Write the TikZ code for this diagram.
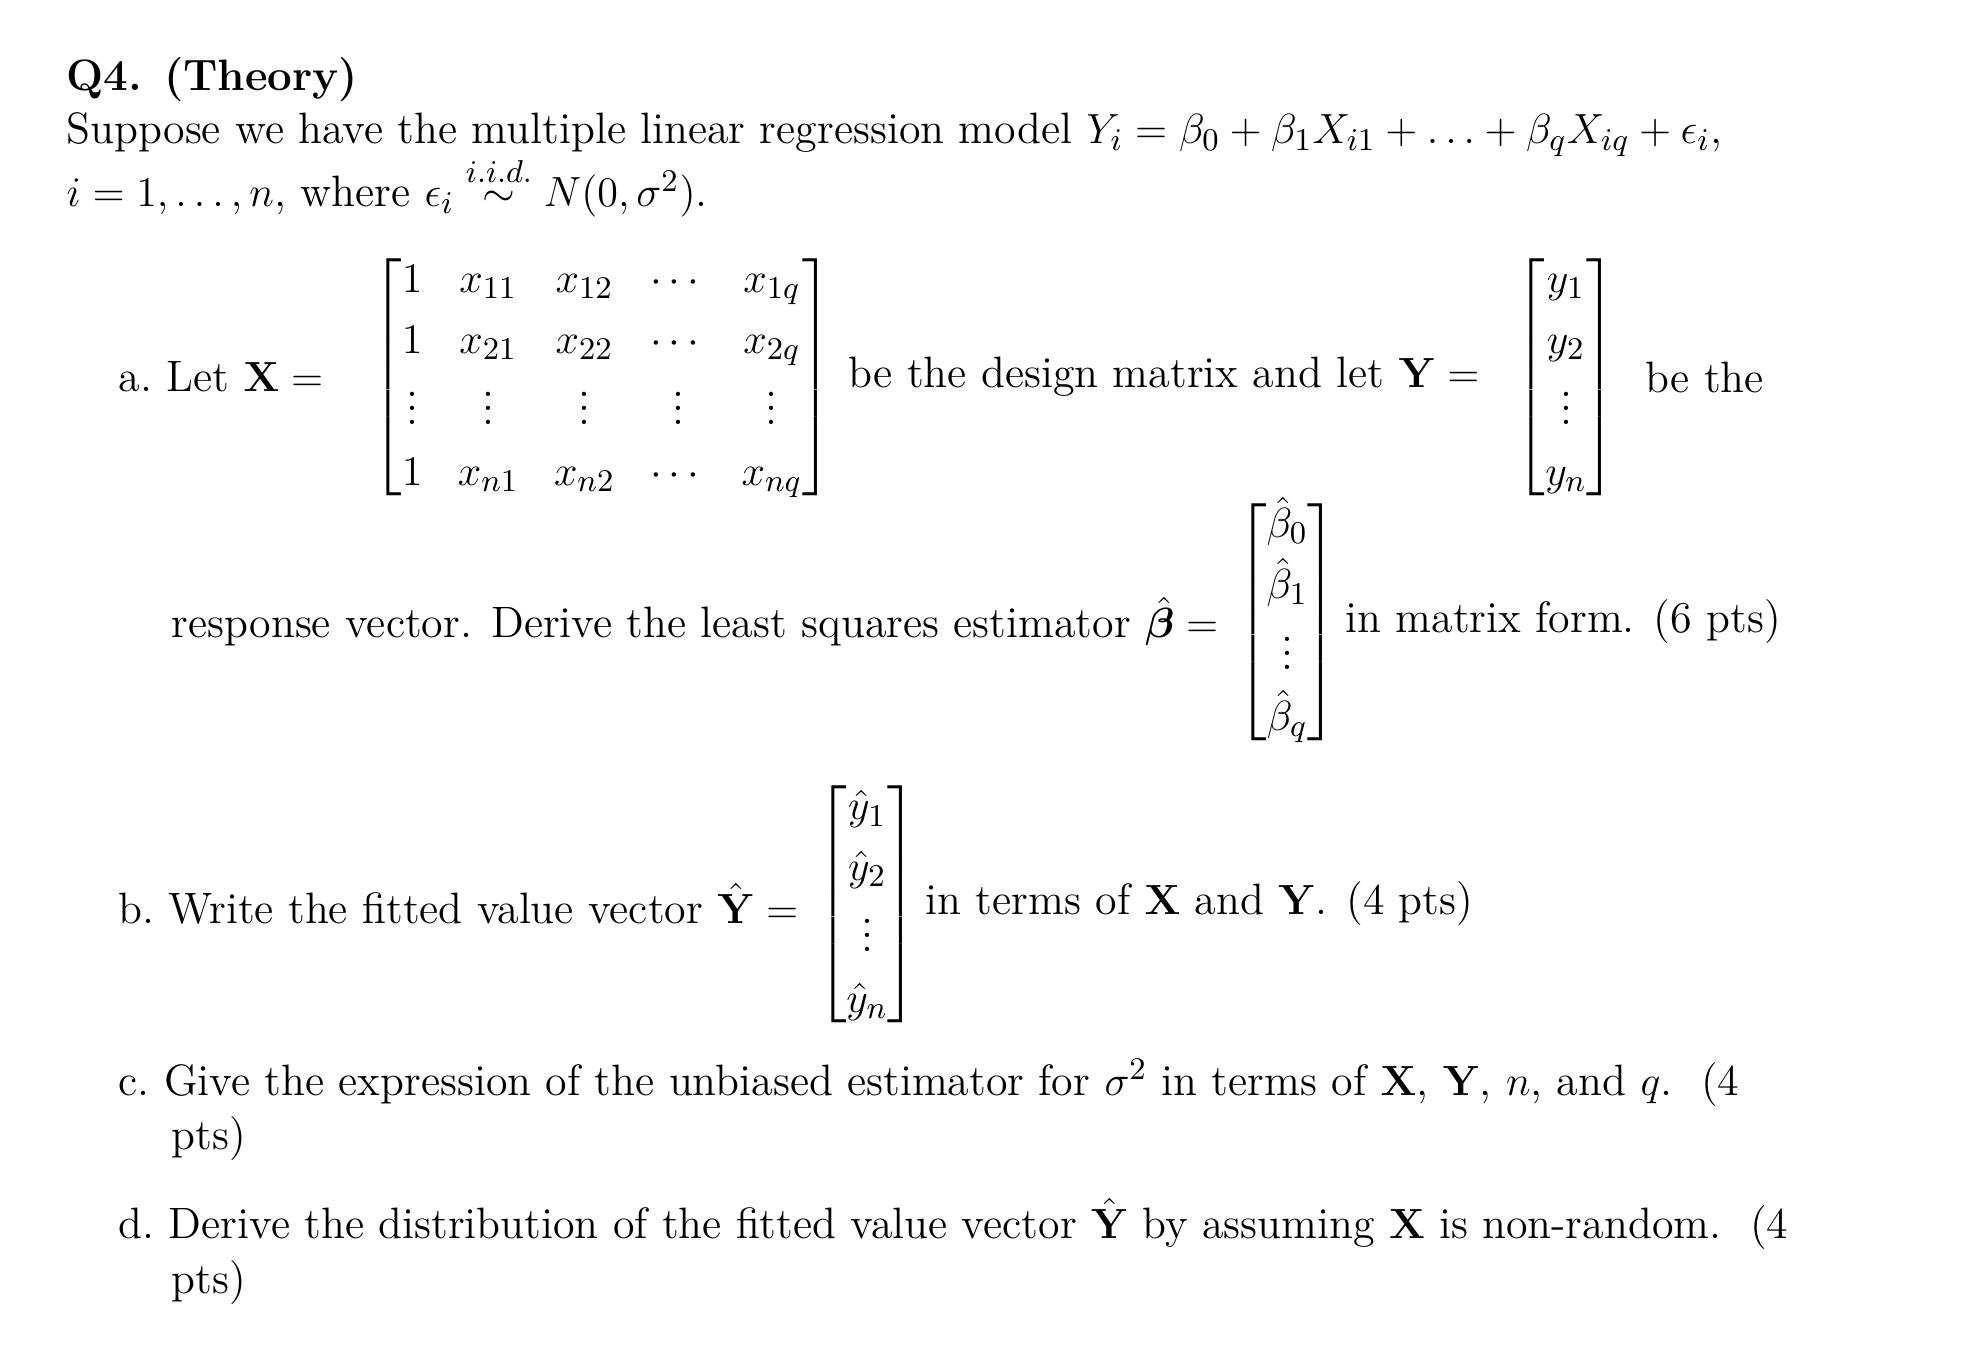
\documentclass[tikz,border=0pt]{standalone}
\usepackage{amsmath,amssymb,bm}
\begin{document}
\begin{tikzpicture}[every node/.style={inner sep=0pt,font=\fontsize{12.5}{15}\selectfont},
  bl/.style={anchor=base west}, wl/.style={anchor=west}]
\useasboundingbox (0,0) rectangle (19.70,-13.66);
\renewcommand\arraystretch{1.15}
\node[bl] (q) at (0.66,-0.91) {\textbf{Q4. (Theory)}};
\node[bl] (l1) at (0.66,-1.44) {Suppose we have the multiple linear regression model $Y_i=\beta_0+\beta_1X_{i1}+\ldots+\beta_qX_{iq}+\epsilon_i$,};
\node[bl] (l2) at (0.66,-2.07) {$i=1,\ldots,n$, where $\epsilon_i\overset{i.i.d.}{\sim}N(0,\sigma^2)$.};
\node[wl] (a1) at (1.18,-3.77) {a.\ Let $\mathbf X=$};
\node[wl] (am) at (3.72,-3.77) {$\begin{bmatrix}1&x_{11}&x_{12}&\cdots&x_{1q}\\1&x_{21}&x_{22}&\cdots&x_{2q}\\\vdots&\vdots&\vdots&\vdots&\vdots\\1&x_{n1}&x_{n2}&\cdots&x_{nq}\end{bmatrix}$};
\node[wl] (a2) at (8.48,-3.77) {be the design matrix and let $\mathbf Y=$};
\node[wl] (ay) at ([xshift=10pt]a2.east) {$\begin{bmatrix}y_1\\y_2\\\vdots\\y_n\end{bmatrix}$};
\node[wl] (a3) at (16.45,-3.77) {be the};
\node[wl] (r1) at (1.71,-6.22) {response vector. Derive the least squares estimator $\hat{\bm\beta}=$};
\node[wl] (rb) at ([xshift=5pt]r1.east) {$\begin{bmatrix}\hat\beta_0\\\hat\beta_1\\\vdots\\\hat\beta_q\end{bmatrix}$};
\node[wl] (r2) at ([xshift=2pt]rb.east) {in matrix form. (6 pts)};
\node[wl] (b1) at (1.18,-9.04) {b.\ Write the fitted value vector $\hat{\mathbf Y}=$};
\node[wl] (by) at ([xshift=5pt]b1.east) {$\begin{bmatrix}\hat y_1\\\hat y_2\\\vdots\\\hat y_n\end{bmatrix}$};
\node[wl] (b2) at ([xshift=2pt]by.east) {in terms of $\mathbf X$ and $\mathbf Y$. (4 pts)};
\node[bl] (c1) at (1.18,-10.95) {c.\ Give the expression of the unbiased estimator for $\sigma^2$ in terms of $\mathbf X$, $\mathbf Y$, $n$, and $q$.\ \ (4};
\node[bl] (c2) at (1.71,-11.49) {pts)};
\node[bl] (d1) at (1.18,-12.38) {d.\ Derive the distribution of the fitted value vector $\hat{\mathbf Y}$ by assuming $\mathbf X$ is non-random.\ \ (4};
\node[bl] (d2) at (1.71,-12.93) {pts)};
\end{tikzpicture}
\end{document}
